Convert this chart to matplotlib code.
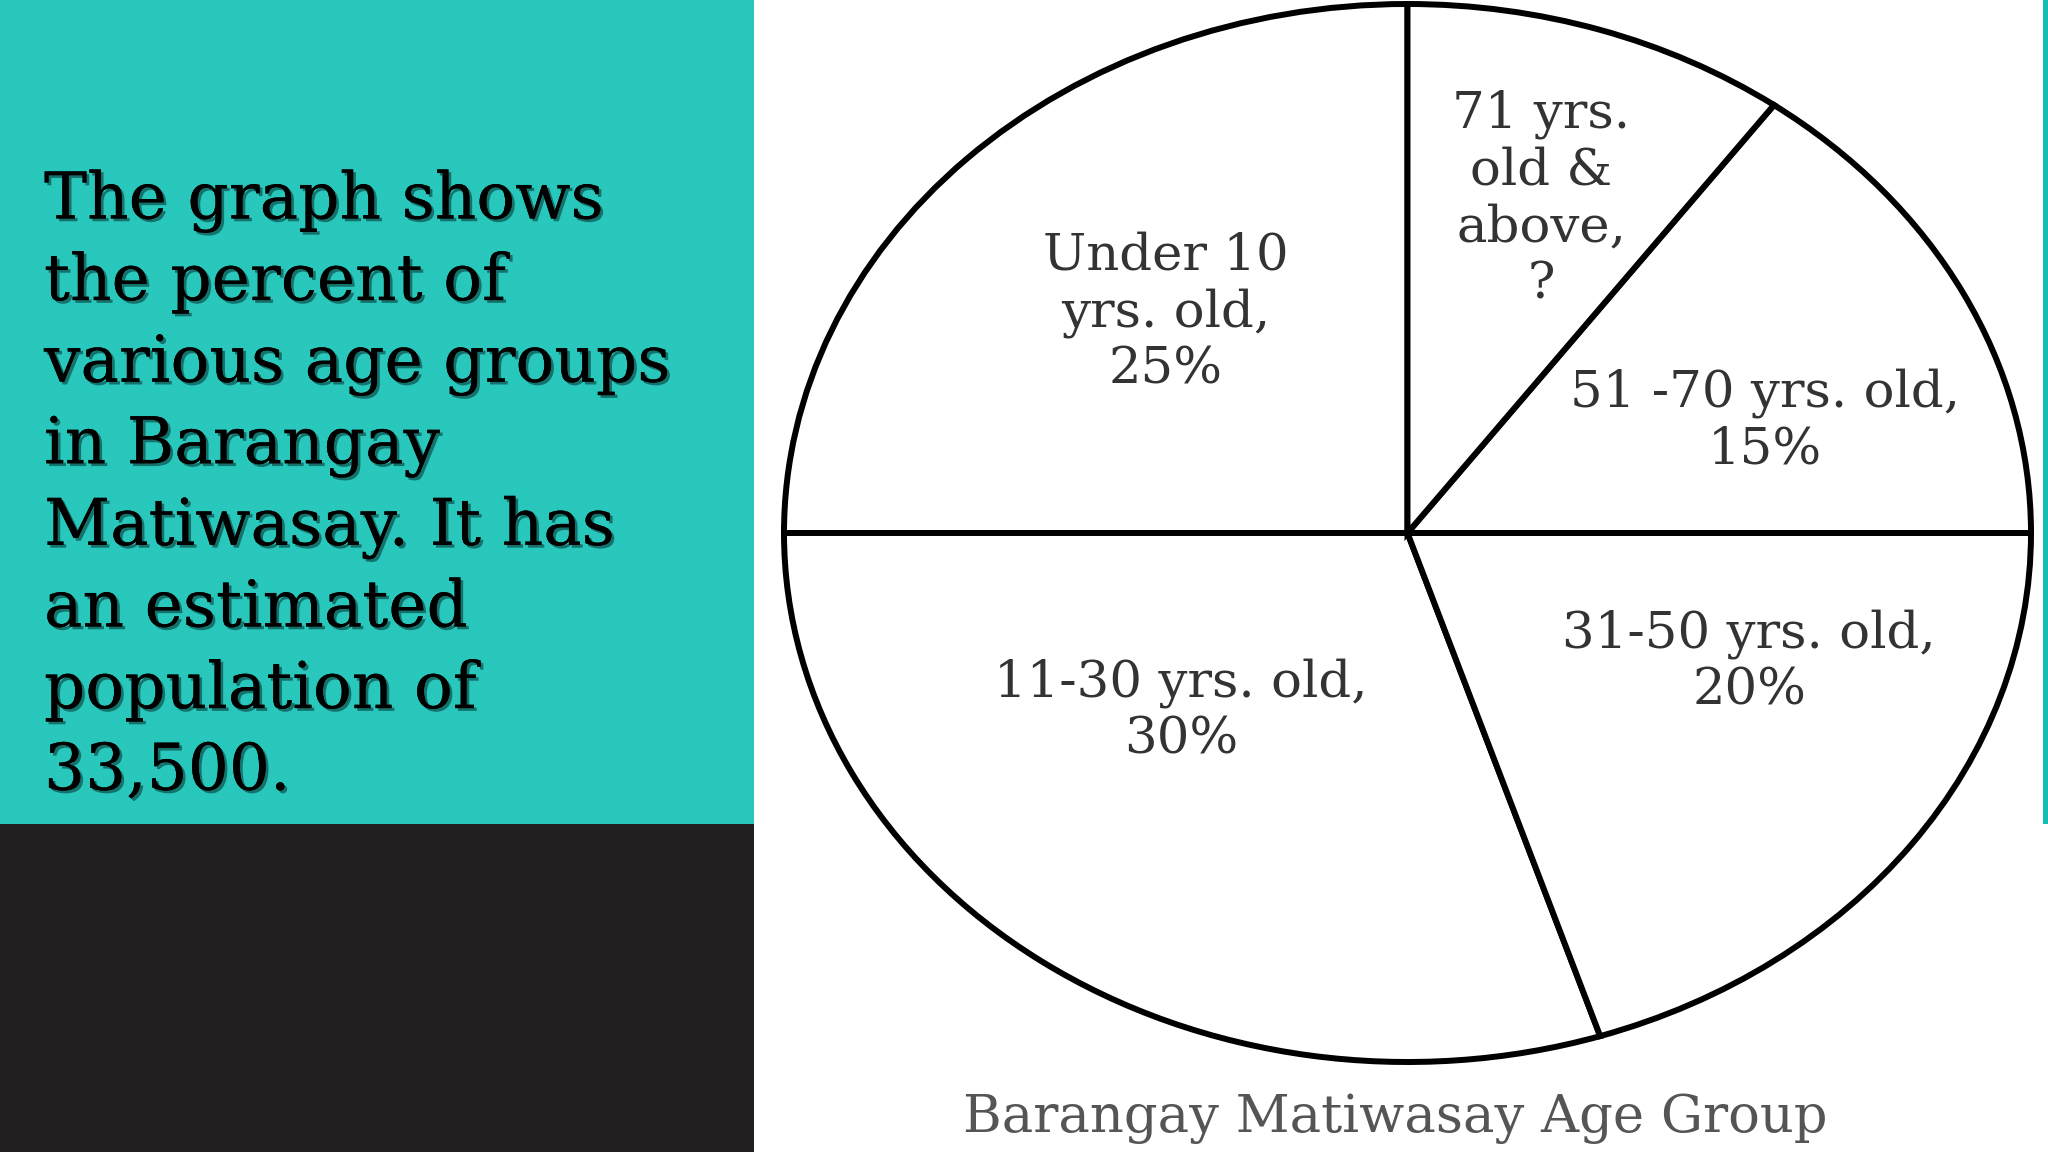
import matplotlib.pyplot as plt
import matplotlib.patheffects as pe
from matplotlib.patches import Rectangle

# slices, counter-clockwise from 12 o'clock
groups = ["Under 10 yrs. old", "11-30 yrs. old", "31-50 yrs. old",
          "51 -70 yrs. old", "71 yrs. old & above"]
percent = [25, 30, 20, 15, 10]
slice_labels = ["Under 10\nyrs. old,\n25%",
                "11-30 yrs. old,\n30%",
                "31-50 yrs. old,\n20%",
                "51 -70 yrs. old,\n15%",
                "71 yrs.\nold &\nabove,\n?"]
label_pos = [(-0.388, 0.416), (-0.363, -0.337), (0.548, -0.244),
             (0.573, 0.211), (0.215, 0.631)]

side_lines = ["The graph shows", "the percent of", "various age groups",
              "in Barangay", "Matiwasay. It has", "an estimated",
              "population of", "33,500."]
title = "Barangay Matiwasay Age Group"

W, H = 2048, 1152
plt.rcParams["hatch.linewidth"] = 1.6
fig = plt.figure(figsize=(W / 100, H / 100), dpi=100)
fig.patch.set_facecolor("white")

# left panel: striped teal over dark block
split = 1 - 824 / H
fig.patches.append(Rectangle((0, split), 754 / W, 1 - split, transform=fig.transFigure,
                             facecolor="#12B8AC", edgecolor="#2AC8BD", linewidth=0,
                             hatch="\\" * 10, zorder=0))
fig.patches.append(Rectangle((0, 0), 754 / W, split, transform=fig.transFigure,
                             facecolor="#231F20", linewidth=0, zorder=0))
fig.patches.append(Rectangle((2043 / W, split), 5 / W, 1 - split, transform=fig.transFigure,
                             facecolor="#15BEB2", linewidth=0, zorder=0))

shadow = [pe.withSimplePatchShadow(offset=(2, -2), shadow_rgbFace="#0B4F4A", alpha=0.7),
          pe.Normal()]
for i, line in enumerate(side_lines):
    y = 1 - (218.5 + 81.6 * i) / H
    fig.text(44 / W, y, line, family="DejaVu Serif", fontsize=46.5, color="black",
             ha="left", va="baseline", path_effects=shadow)

# pie as an ellipse
ax = fig.add_axes([784 / W, 1 - 1062 / H, 1247 / W, 1058 / H])
wedges, _ = ax.pie(percent, startangle=90, counterclock=True, colors=["white"] * 5,
                   wedgeprops=dict(edgecolor="black", linewidth=4.3))
for w in wedges:
    w.set_clip_on(False)
ax.set_aspect("auto")
ax.set_xlim(-1, 1)
ax.set_ylim(-1, 1)
ax.axis("off")

for txt, (x, y) in zip(slice_labels, label_pos):
    ax.text(x, y, txt, family="DejaVu Serif", fontsize=37, color="#333333",
            ha="center", va="center", linespacing=1.19)

fig.text(1395 / W, 1 - 1132 / H, title, family="DejaVu Serif", fontsize=38,
         color="#555555", ha="center", va="baseline")

fig.savefig("out.png", dpi=100)
